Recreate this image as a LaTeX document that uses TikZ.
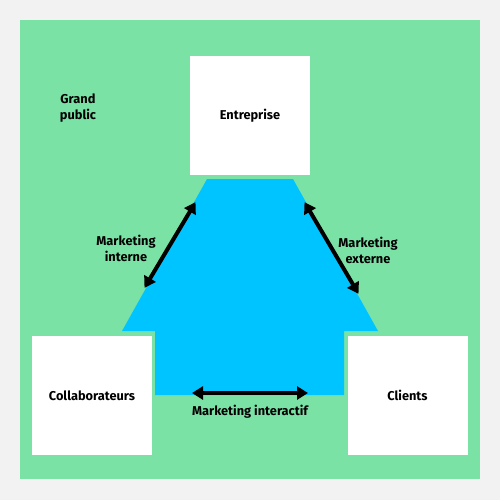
\documentclass[tikz,border=0pt]{standalone}
\usepackage{fontspec}
\setmainfont{Fira Sans}
\usetikzlibrary{arrows.meta}
\definecolor{bggray}{HTML}{F2F2F2}
\definecolor{mgreen}{HTML}{7BE2A6}
\definecolor{mblue}{HTML}{00C4FF}
\tikzset{
  box/.style={fill=white, draw=none, minimum width=120pt, minimum height=119pt, inner sep=0pt, font=\bfseries\fontsize{12.8}{16}\selectfont},
  lbl/.style={align=center, inner sep=0pt, font=\bfseries\fontsize{12.8}{16}\selectfont},
  dblarrow/.style={line width=4pt, {Triangle[length=11pt,width=13pt]}-{Triangle[length=11pt,width=13pt]}, shorten <=-1pt, shorten >=-1pt}
}
\begin{document}
\begin{tikzpicture}[x=1pt,y=-1pt]
\useasboundingbox (0,0) rectangle (500,500);
\fill[bggray] (0,0) rectangle (500,500);
\fill[mgreen] (20,20) rectangle (480,479);
\fill[mblue] (207,179) -- (293,179) -- (378,331) -- (344,331) -- (344,395) -- (155,395) -- (155,331) -- (122,331) -- cycle;
\node[box] (ent) at (250,115.5) {Entreprise};
\node[box] (col) at (92,395.5) {Collaborateurs};
\node[box] (cli) at (407.5,395.5) {Clients};
\node[lbl] (gp) at (78,108.5) {Grand\\public};
\node[lbl] (mi) at (126,248) {Marketing\\interne};
\node[lbl] (me) at (368,250.5) {Marketing\\externe};
\node[lbl] (mia) at (250,411.5) {Marketing interactif};
\coordinate (a1) at (195,203);
\coordinate (a2) at (145,287);
\coordinate (b1) at (305,203);
\coordinate (b2) at (358,293);
\coordinate (c1) at (193,393);
\coordinate (c2) at (307,393);
\draw[dblarrow] (a1) -- (a2);
\draw[dblarrow] (b1) -- (b2);
\draw[dblarrow] (c1) -- (c2);
\end{tikzpicture}
\end{document}
